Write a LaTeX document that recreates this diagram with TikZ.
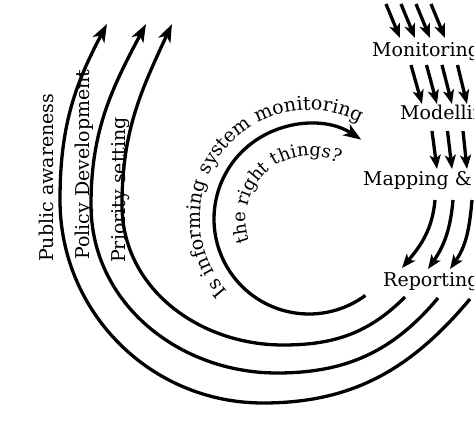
\documentclass[tikz,border=0pt]{standalone}
\usepackage{fontspec}
\setmainfont{DejaVu Serif}
\usetikzlibrary{arrows.meta,decorations.text}
\newcommand\myfnt{\fontsize{19}{22}\selectfont}
\newcommand\myfnts{\fontsize{18}{21}\selectfont}
\begin{document}
\begin{tikzpicture}[x=1pt,y=1pt,
  flow/.style={line width=3.3pt, -{Stealth[length=14pt,width=11pt,inset=3.5pt]}},
  looparrow/.style={line width=3.3pt, -{Stealth[length=18pt,width=13pt,inset=5pt]}},
  lbl/.style={font=\myfnt, inner sep=0pt, anchor=base west},
]
\useasboundingbox (0,0) rectangle (474,-446);
\clip (0,0) rectangle (474,-446);

% stage labels
\node[lbl] (mon) at (372,-57) {Monitoring};
\node[lbl] (mod) at (400,-120) {Modelling};
\node[lbl] (map) at (363,-186) {Mapping \&};
\node[lbl] (rep) at (383,-287) {Reporting};

% arrows between stages
\foreach \i in {0,1,2,3}
  \draw[flow] (386+15*\i,-4) -- (400+15*\i,-38);
\foreach \i in {0,1,2,3}
  \draw[flow] (411+15.5*\i,-65) -- (422+15*\i,-104);
\foreach \i in {0,1,2}
  \draw[flow] (432+15.5*\i,-131) -- (437+15*\i,-169);
\draw[flow] (435,-200) to[out=-95,in=50] (402,-268);
\draw[flow] (453,-200) to[out=-95,in=55] (428,-269);
\draw[flow] (472,-200) to[out=-95,in=55] (450,-269);

% inner loop
\draw[looparrow] (309,-219) ++(-53.6:95) arc[start angle=-53.6, end angle=-303.4, radius=95];
\path[decorate, decoration={text along path, text={|\myfnt|Is informing system monitoring}, text align=center}]
  (309,-219) ++(226:109) arc[start angle=226, end angle=58, radius=109];
\path[decorate, decoration={text along path, text={|\myfnts|the right things?}, text align=center}]
  (309,-219) ++(205:63) arc[start angle=205, end angle=58, radius=63];

% outer loops
\draw[looparrow] (405,-297) to[out=-135,in=0] (283,-345) to[out=180,in=-90] (122,-205) to[out=90,in=-115] (172,-24);
\draw[looparrow] (438,-298) to[out=-130,in=0] (277,-373) to[out=180,in=-90] (91,-205) to[out=90,in=-118] (146,-24);
\draw[looparrow] (470,-299) to[out=-130,in=0] (263,-403) to[out=180,in=-90] (60,-200) to[out=90,in=-118] (107,-24);

% side labels
\node[lbl, rotate=90] (pa) at (53,-262) {Public awareness};
\node[lbl, rotate=90] (pd) at (89,-260) {Policy Development};
\node[lbl, rotate=90] (ps) at (125,-263) {Priority setting};
\end{tikzpicture}
\end{document}
